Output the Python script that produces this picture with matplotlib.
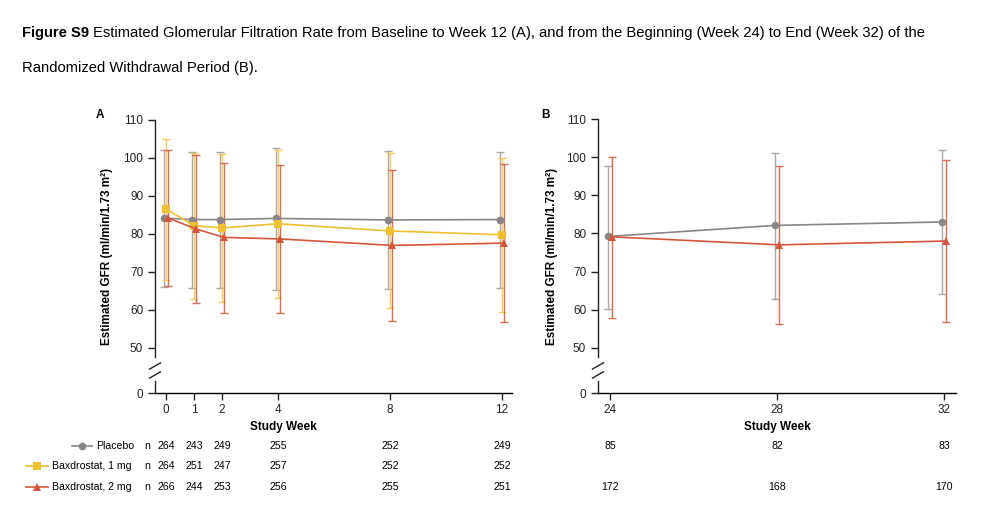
import numpy as np
import matplotlib
matplotlib.use("Agg")
import matplotlib.pyplot as plt
from matplotlib.lines import Line2D
from matplotlib.transforms import blended_transform_factory

plt.rcParams['font.family'] = ['Liberation Sans', 'DejaVu Sans']

# ---- data ----
weeks_a = [0, 1, 2, 4, 8, 12]
weeks_b = [24, 28, 32]

placebo_a = [84.2, 83.8, 83.8, 84.1, 83.7, 83.8]
placebo_a_hi = [102.2, 101.6, 101.6, 102.6, 101.8, 101.5]
placebo_a_lo = [66.0, 65.9, 65.9, 65.2, 65.5, 65.9]

bax1_a = [86.6, 82.2, 81.6, 82.7, 80.8, 79.8]
bax1_a_hi = [105.1, 101.4, 101.1, 102.1, 101.2, 99.9]
bax1_a_lo = [68.0, 62.8, 62.2, 63.2, 60.4, 59.4]

bax2_a = [84.2, 81.3, 79.1, 78.7, 77.0, 77.6]
bax2_a_hi = [102.2, 100.8, 98.8, 98.1, 96.8, 98.3]
bax2_a_lo = [66.4, 61.9, 59.3, 59.3, 57.2, 56.8]

placebo_b = [79.2, 82.1, 83.0]
placebo_b_hi = [97.7, 101.2, 101.9]
placebo_b_lo = [60.3, 62.9, 64.2]

bax2_b = [79.1, 77.0, 78.0]
bax2_b_hi = [100.1, 97.8, 99.2]
bax2_b_lo = [57.9, 56.2, 56.8]

n_placebo_a = [264, 243, 249, 255, 252, 249]
n_bax1_a = [264, 251, 247, 257, 252, 252]
n_bax2_a = [266, 244, 253, 256, 255, 251]
n_placebo_b = [85, 82, 83]
n_bax2_b = [172, 168, 170]

y_ticks = [0, 50, 60, 70, 80, 90, 100, 110]

# ---- style ----
c_placebo = '#878787'
c_bax1 = '#F0C030'
c_bax2 = '#D5553A'
e_placebo = '#A8A8A8'
e_bax1 = '#F3CE5A'
e_bax2 = '#DA6A50'

W, H = 1000, 511
K = (45 / 3.8) / 50.0   # compression below the axis break
TABLE_FS = 7.6


def fwd(y):
    y = np.asarray(y, dtype=float)
    return np.where(y >= 50, y, 50 - (50 - y) * K)


def inv(v):
    v = np.asarray(v, dtype=float)
    return np.where(v >= 50, v, 50 - (50 - v) / K)


def px(x, y):
    return x / W, 1 - y / H


def series(ax, x, mean, lo, hi, off, color, ecolor, marker):
    x = np.asarray(x, float) + off
    mean = np.asarray(mean)
    yerr = [mean - np.asarray(lo), np.asarray(hi) - mean]
    ax.errorbar(x, mean, yerr=yerr, fmt='none', ecolor=ecolor, elinewidth=1.0,
                capsize=3, capthick=1.0, zorder=2)
    ax.plot(x, mean, color=color, lw=1.2, marker=marker, ms=5.5,
            markeredgewidth=0, zorder=3)


def style_axis(ax, xticks, xlim):
    ax.set_yscale('function', functions=(fwd, inv))
    ax.set_ylim(0, 110)
    ax.set_yticks(y_ticks)
    ax.yaxis.set_minor_locator(matplotlib.ticker.NullLocator())
    ax.set_xticks(xticks)
    ax.set_xlim(*xlim)
    for s in ['top', 'right', 'left']:
        ax.spines[s].set_visible(False)
    ax.spines['bottom'].set_linewidth(1.0)
    ax.tick_params(axis='both', direction='out', length=5, width=1.0,
                   labelsize=8.5, colors='#222222')
    ax.tick_params(axis='x', pad=3)
    # left spine drawn in two pieces with a break
    tr = ax.get_yaxis_transform()
    ax.plot([0, 0], [40, 110], color='#222222', lw=1.0, transform=tr,
            clip_on=False, zorder=5)
    ax.plot([0, 0], [0, 13], color='#222222', lw=1.0, transform=tr,
            clip_on=False, zorder=5)
    dx = 5.5 / (ax.get_position().width * W)
    for yc in [30, 20]:
        ax.plot([-dx, dx], [yc - 3.5, yc + 3.5], color='#222222', lw=1.0,
                transform=tr, clip_on=False, zorder=5)
    ax.set_ylabel('Estimated GFR (ml/min/1.73 m²)', fontsize=8.5,
                  fontweight='bold')


fig = plt.figure(figsize=(10, 5.11), dpi=100)
axA = fig.add_axes([155 / W, 1 - 393 / H, 357 / W, 273 / H])
axB = fig.add_axes([598 / W, 1 - 393 / H, 358 / W, 274 / H])

style_axis(axA, weeks_a, (-0.39, 12.36))
style_axis(axB, weeks_b, (23.71, 32.29))
axA.yaxis.set_label_coords(-0.118, 0.5)
axB.yaxis.set_label_coords(-0.113, 0.5)

oa = 0.085
series(axA, weeks_a, placebo_a, placebo_a_lo, placebo_a_hi, -oa, c_placebo, e_placebo, 'o')
series(axA, weeks_a, bax1_a, bax1_a_lo, bax1_a_hi, 0.0, c_bax1, e_bax1, 's')
series(axA, weeks_a, bax2_a, bax2_a_lo, bax2_a_hi, oa, c_bax2, e_bax2, '^')

ob = 0.05
series(axB, weeks_b, placebo_b, placebo_b_lo, placebo_b_hi, -ob, c_placebo, e_placebo, 'o')
series(axB, weeks_b, bax2_b, bax2_b_lo, bax2_b_hi, ob, c_bax2, e_bax2, '^')

# panel letters
fig.text(*px(100, 115), 'A', fontsize=8.5, fontweight='bold', ha='center', va='center')
fig.text(*px(545, 115), 'B', fontsize=8.5, fontweight='bold', ha='center', va='center')

# x labels
fig.text(*px(283, 427), 'Study Week', fontsize=8.5, fontweight='bold', ha='center', va='center')
fig.text(*px(777, 427), 'Study Week', fontsize=8.5, fontweight='bold', ha='center', va='center')

# title
t1 = fig.text(*px(22, 33), 'Figure S9', fontsize=10.6, fontweight='bold', va='center')
fig.canvas.draw()
bb = t1.get_window_extent()
fig.text(bb.x1 / W + 4 / W, 1 - 33 / H,
         'Estimated Glomerular Filtration Rate from Baseline to Week 12 (A), and from the '
         'Beginning (Week 24) to End (Week 32) of the', fontsize=10.6, va='center')
fig.text(*px(22, 68), 'Randomized Withdrawal Period (B).', fontsize=10.6, va='center')

# legend + number-at-risk table
rows = [
    ('Placebo', c_placebo, 'o', 72, 92, n_placebo_a, n_placebo_b, 446),
    ('Baxdrostat, 1 mg', c_bax1, 's', 26, 48, n_bax1_a, None, 466),
    ('Baxdrostat, 2 mg', c_bax2, '^', 26, 48, n_bax2_a, n_bax2_b, 487),
]
trA = blended_transform_factory(axA.transData, fig.transFigure)
trB = blended_transform_factory(axB.transData, fig.transFigure)
for label, col, mk, x0, x1, na, nb, ypx in rows:
    yf = 1 - ypx / H
    fig.add_artist(Line2D([x0 / W, (x0 + x1) / 2 / W, x1 / W], [yf, yf, yf],
                          color=col, lw=1.2, marker=mk, ms=5.5,
                          markeredgewidth=0, markevery=[1],
                          transform=fig.transFigure))
    fig.text((x1 + 4) / W, yf, label, fontsize=TABLE_FS, va='center', ha='left')
    fig.text(147 / W, yf, 'n', fontsize=TABLE_FS, va='center', ha='center')
    for wk, n in zip(weeks_a, na):
        fig.text(wk, yf, str(n), fontsize=TABLE_FS, va='center', ha='center', transform=trA)
    if nb is not None:
        for wk, n in zip(weeks_b, nb):
            fig.text(wk, yf, str(n), fontsize=TABLE_FS, va='center', ha='center', transform=trB)

fig.savefig('out.png', dpi=100)
